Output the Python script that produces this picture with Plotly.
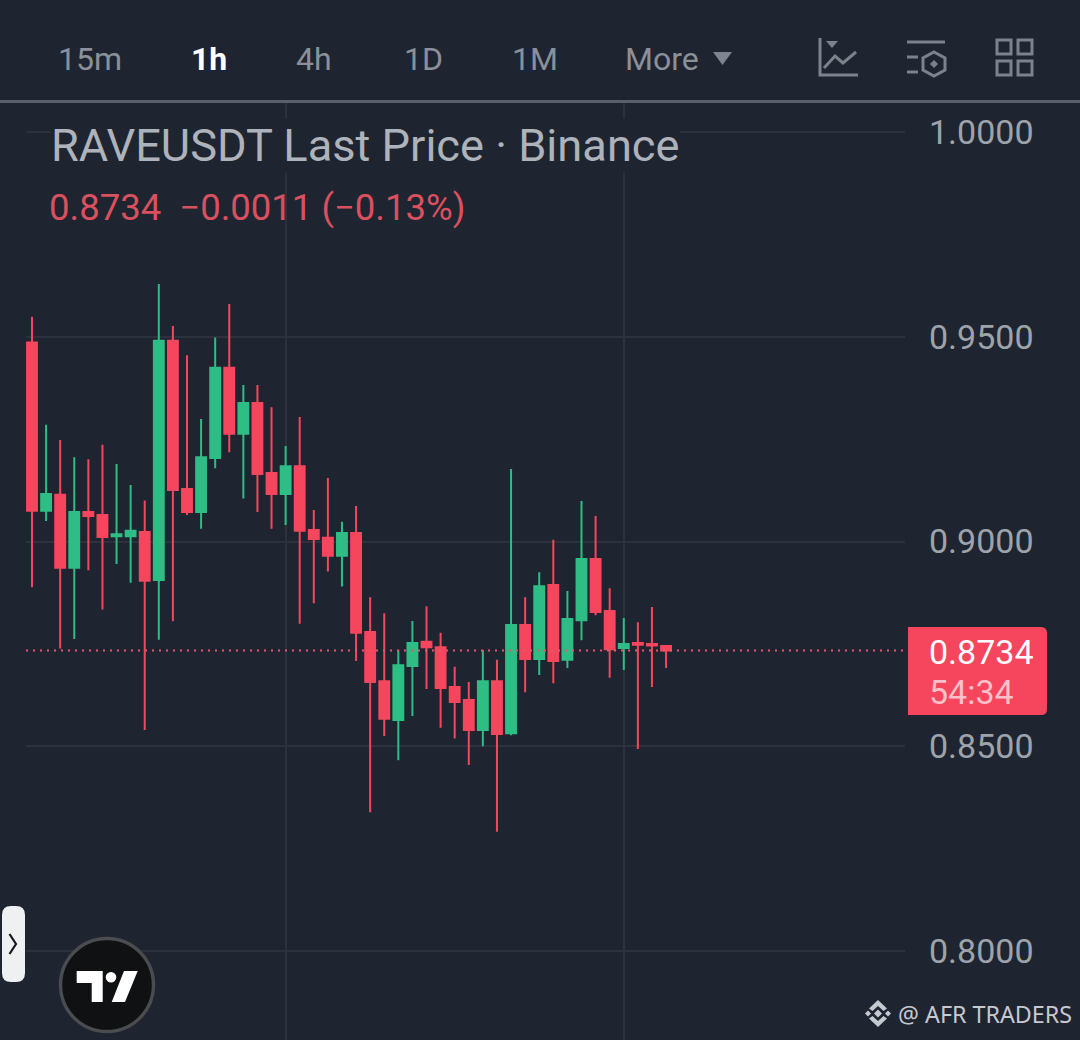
import plotly.graph_objects as go

W, H = 1080, 1040

# --- data -----------------------------------------------------------------
candle_index = list(range(46))
open_prices = [.9486,.9075,.9114,.8936,.9072,.9065,.9013,.9013,.9023,.8906,.9490,.9128,.9072,.9204,.9424,.9263,
               .9338,.9167,.9116,.9184,.9028,.9009,.8965,.9021,.8779,.8659,.8564,.8696,.8755,.8742,.8645,.8613,
               .8540,.8659,.8532,.8796,.8713,.8894,.8711,.8808,.8957,.8830,.8740,.8752,.8750,.8745]
high_prices = [.9549,.9285,.9248,.9206,.9201,.9236,.9189,.9138,.9100,.9629,.9526,.9455,.9299,.9498,.9580,.9382,
               .9382,.9328,.9233,.9304,.9077,.9155,.9048,.9087,.8864,.8825,.8735,.8806,.8842,.8777,.8694,.8657,
               .8735,.8711,.9177,.8864,.8925,.9004,.8879,.9099,.9062,.8886,.8813,.8803,.8840,.8747]
low_prices = [.8888,.9050,.8739,.8762,.8930,.8834,.8945,.8899,.8540,.8760,.8805,.9065,.9031,.9179,.9218,.9105,
              .9072,.9031,.9040,.8799,.8849,.8927,.8890,.8708,.8339,.8525,.8466,.8574,.8640,.8545,.8519,.8454,
              .8500,.8291,.8527,.8632,.8674,.8654,.8691,.8759,.8820,.8667,.8686,.8493,.8645,.8691]
close_prices = [.9075,.9116,.8936,.9072,.9062,.9011,.9018,.9026,.8904,.9490,.9126,.9072,.9206,.9424,.9263,.9338,
                .9165,.9116,.9184,.9026,.9006,.8965,.9021,.8777,.8657,.8567,.8698,.8752,.8742,.8642,.8608,.8540,
                .8659,.8530,.8796,.8713,.8891,.8708,.8811,.8957,.8828,.8737,.8750,.8748,.8746,.8734]
price_ticks = [1.0, 0.95, 0.90, 0.85, 0.80]
time_grid = [18, 42]
last_price = 0.8734
intervals = ["15m", "1h", "4h", "1D", "1M", "More"]

BG = "#1f2530"
RED = "#f6465d"
GREEN = "#2ebd85"
GRID = "#2c313b"
ICON = "#7c818b"
FONT = "Roboto"


def px(x):
    return x / W


def py(y):
    return 1 - y / H


def path(points, close=False):
    d = "M" + " L".join(f"{px(x):.5f},{py(y):.5f}" for x, y in points)
    return d + (" Z" if close else "")


shapes = []


def stroke(points, color=ICON, width=3, close=False):
    shapes.append(dict(type="path", xref="paper", yref="paper", path=path(points, close),
                       line=dict(color=color, width=width), layer="above"))


def fill(points, color):
    shapes.append(dict(type="path", xref="paper", yref="paper", path=path(points, True),
                       fillcolor=color, line=dict(width=0), layer="above"))


def rect(x0, y0, x1, y1, fc=None, lc=None, lw=0):
    shapes.append(dict(type="rect", xref="paper", yref="paper", x0=px(x0), x1=px(x1), y0=py(y0), y1=py(y1),
                       fillcolor=fc or "rgba(0,0,0,0)", line=dict(color=lc or "rgba(0,0,0,0)", width=lw),
                       layer="above"))


def circle(cx, cy, r, fc, lc=None, lw=0):
    shapes.append(dict(type="circle", xref="paper", yref="paper", x0=px(cx - r), x1=px(cx + r),
                       y0=py(cy + r), y1=py(cy - r), fillcolor=fc,
                       line=dict(color=lc or "rgba(0,0,0,0)", width=lw), layer="above"))


def rounded(x0, y0, x1, y1, r, fc, left=True):
    rl = r if left else 0.5
    d = (f"M{px(x0 + rl):.5f},{py(y0):.5f} L{px(x1 - r):.5f},{py(y0):.5f} "
         f"Q{px(x1):.5f},{py(y0):.5f} {px(x1):.5f},{py(y0 + r):.5f} "
         f"L{px(x1):.5f},{py(y1 - r):.5f} Q{px(x1):.5f},{py(y1):.5f} {px(x1 - r):.5f},{py(y1):.5f} "
         f"L{px(x0 + rl):.5f},{py(y1):.5f} Q{px(x0):.5f},{py(y1):.5f} {px(x0):.5f},{py(y1 - rl):.5f} "
         f"L{px(x0):.5f},{py(y0 + rl):.5f} Q{px(x0):.5f},{py(y0):.5f} {px(x0 + rl):.5f},{py(y0):.5f} Z")
    shapes.append(dict(type="path", xref="paper", yref="paper", path=d, fillcolor=fc, line=dict(width=0),
                       layer="above"))


annotations = []


def text(x, y, s, size, color, anchor="left", family=FONT, bg=None, weight=None):
    a = dict(xref="paper", yref="paper", x=px(x), y=py(y), text=s, showarrow=False, xanchor=anchor,
             yanchor="middle", font=dict(family=family, size=size, color=color, weight=weight),
             borderpad=0)
    if bg:
        a["bgcolor"] = bg
    annotations.append(a)


# last price dotted line
shapes.append(dict(type="line", xref="paper", yref="y", x0=px(26), x1=px(905), y0=last_price, y1=last_price,
                   line=dict(color="#e8566c", width=2, dash="2px,5px"), layer="above"))

# header
rect(0, 100, W, 103, fc="#5a5f69")
for name, cx in zip(intervals[:5], [90, 209, 314, 423, 535]):
    active = name == "1h"
    text(cx, 59, name, 32, "#ffffff" if active else "#8b9099", anchor="center", weight=700 if active else 400)
text(624, 59, intervals[5], 32, "#8b9099")
fill([(713, 52), (732, 52), (722.5, 65)], "#7f848e")

# icon 1: chart
stroke([(820, 38), (820, 75), (858, 75)])
fill([(826, 41), (838, 41), (832, 48)], ICON)
stroke([(824, 68), (835, 56), (843, 63), (856, 52)])
# icon 2: settings
stroke([(907, 42), (945, 42)])
stroke([(907, 57), (918, 57)])
stroke([(907, 72), (918, 72)])
stroke([(934, 52), (945, 58), (945, 70), (934, 76), (923, 70), (923, 58)], close=True)
fill([(934, 60), (938, 64), (934, 68), (930, 64)], ICON)
# icon 3: layout
for x0, x1 in ((997, 1011), (1018, 1032)):
    for y0, y1 in ((40, 54), (61, 75)):
        rect(x0, y0, x1, y1, lc=ICON, lw=3)

# legend
text(50, 146, "RAVEUSDT Last Price · Binance", 45.2, "#aeb2ba", bg=BG)
text(47.5, 208, "0.8734&nbsp;&nbsp;−0.0011 (−0.13%)", 36.5, "#d9505f")

# price badge
rounded(908, 627, 1047, 715, 6, RED, left=False)
text(928, 652, "0.8734", 34, "#ffffff")
text(928, 692, "54:34", 34, "#fbc0c8")

# pill
rounded(2, 906, 25, 982, 9, "#eff0f2")
stroke([(9.5, 934), (16, 944), (9.5, 954)], color="#14171c", width=2.2)

# tradingview badge
circle(107, 985, 46.5, "#101113", "#4b4c4f", 3.5)
fill([(76.7, 971), (102.7, 971), (102.7, 1002), (91.7, 1002), (91.7, 983), (76.7, 983)], "#ffffff")
circle(111, 977.3, 5.3, "#ffffff")
fill([(124, 971), (137.7, 971), (125, 1002), (111.7, 1002)], "#ffffff")

# binance mark + watermark
LOGO = "#c6c9d0"
fill([(878, 1000), (887, 1008.5), (883.5, 1011), (878, 1006), (872.5, 1011), (869, 1008.5)], LOGO)
fill([(878, 1027), (887, 1018.5), (883.5, 1016), (878, 1021), (872.5, 1016), (869, 1018.5)], LOGO)
fill([(878, 1009.5), (882, 1013.5), (878, 1017.5), (874, 1013.5)], LOGO)
fill([(868, 1010.5), (871, 1013.5), (868, 1016.5), (865, 1013.5)], LOGO)
fill([(888, 1010.5), (891, 1013.5), (888, 1016.5), (885, 1013.5)], LOGO)
text(897, 1014, "@ AFR TRADERS", 23.3, "#c6c9d0", family="Noto Sans")

fig = go.Figure(
    go.Candlestick(
        x=candle_index,
        open=open_prices,
        high=high_prices,
        low=low_prices,
        close=close_prices,
        increasing=dict(line=dict(color=GREEN, width=2), fillcolor=GREEN),
        decreasing=dict(line=dict(color=RED, width=2), fillcolor=RED),
        whiskerwidth=0,
        showlegend=False,
    )
)

fig.update_layout(
    width=W,
    height=H,
    autosize=False,
    margin=dict(l=0, r=0, t=0, b=0),
    paper_bgcolor=BG,
    plot_bgcolor=BG,
    showlegend=False,
    boxgap=0,
    xaxis=dict(
        domain=[px(26), px(905)],
        range=[-0.426, 61.96],
        rangeslider=dict(visible=False),
        tickmode="array",
        tickvals=time_grid,
        showticklabels=False,
        showgrid=True,
        gridcolor=GRID,
        gridwidth=2,
        zeroline=False,
        showline=False,
        ticks="",
    ),
    yaxis=dict(
        domain=[0, py(103)],
        range=[0.77827, 1.00708],
        side="right",
        tickmode="array",
        tickvals=price_ticks,
        tickformat=".4f",
        tickfont=dict(family=FONT, size=34, color="#9ea3ab"),
        ticklabelstandoff=23,
        showgrid=True,
        gridcolor=GRID,
        gridwidth=2,
        zeroline=False,
        showline=False,
        ticks="",
    ),
    shapes=shapes,
    annotations=annotations,
    font=dict(family=FONT),
)

fig.write_html(
    "out.html",
    config=dict(displayModeBar=False),
    post_script="document.body.style.margin='0';document.body.style.overflow='hidden';document.body.style.background='#1f2530';",
)
